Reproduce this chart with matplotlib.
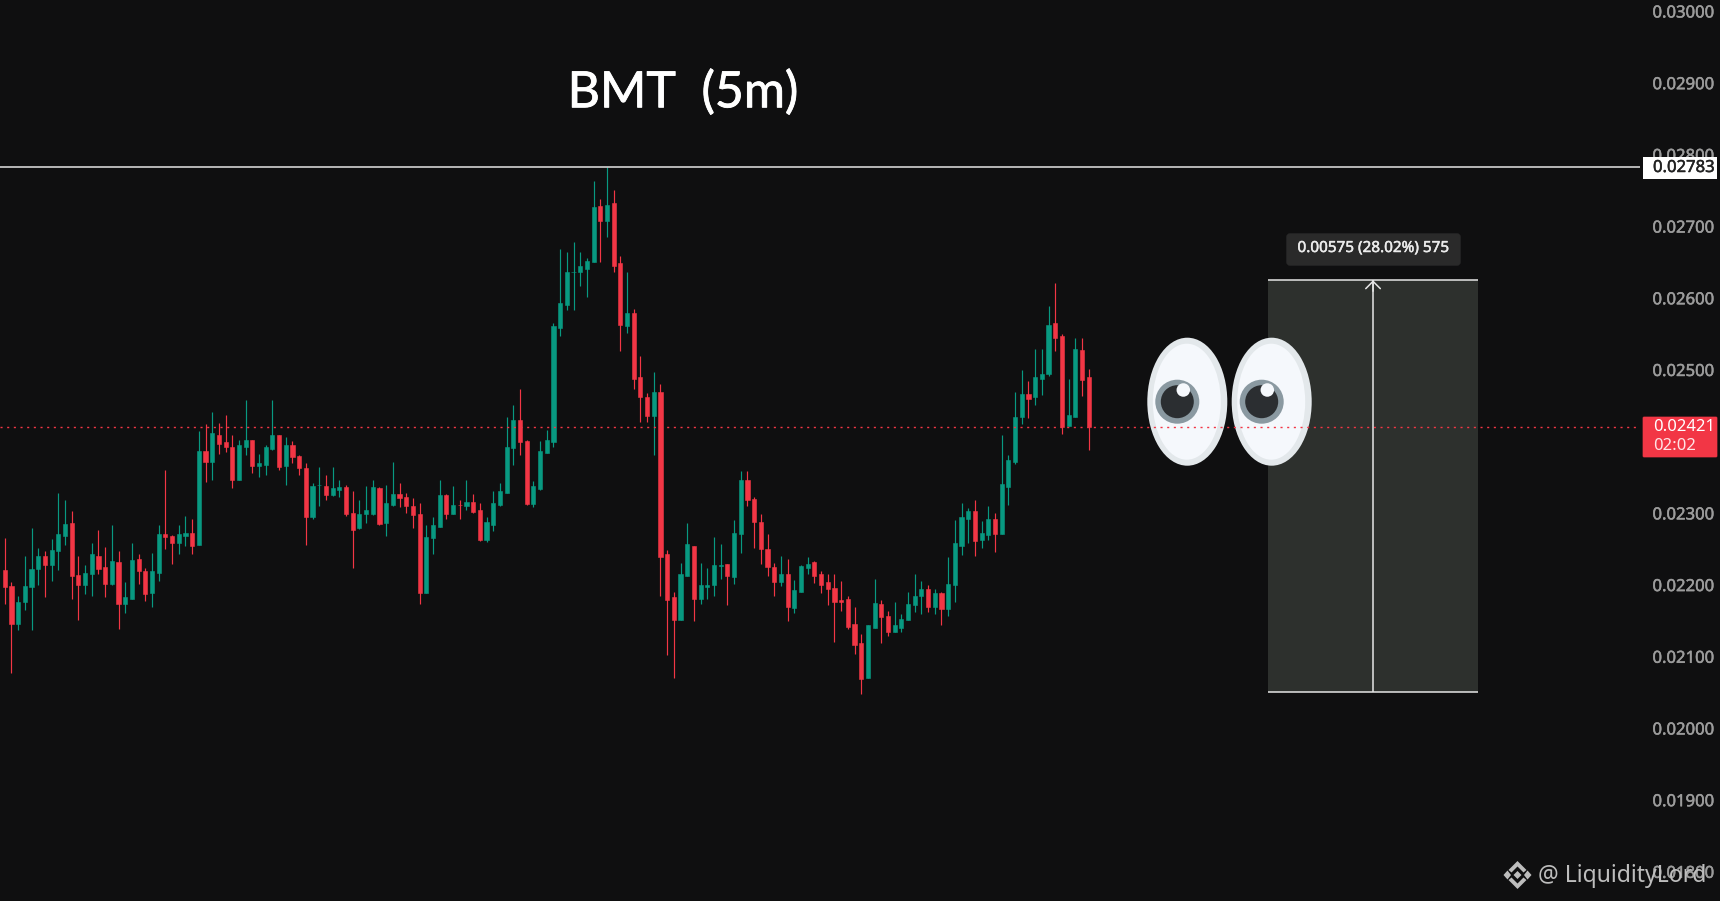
import numpy as np
from matplotlib import pyplot as plt
from matplotlib import patheffects
from matplotlib.patches import Ellipse, FancyBboxPatch, Polygon, Rectangle
from matplotlib.transforms import Affine2D

plt.rcParams['font.family'] = ['Noto Sans', 'DejaVu Sans']

W, H = 1720, 901

# prices in units of 0.00001
opens = [2221, 2199, 2146, 2177, 2197, 2222, 2240, 2228, 2247, 2269,
         2286, 2214, 2200, 2215, 2241, 2225, 2201, 2232, 2174, 2180,
         2236, 2219, 2189, 2217, 2271, 2269, 2258, 2269, 2273, 2256,
         2387, 2372, 2410, 2399, 2393, 2347, 2393, 2402, 2366, 2368,
         2390, 2409, 2366, 2395, 2380, 2363, 2295, 2339, 2338, 2325,
         2333, 2337, 2301, 2279, 2299, 2299, 2336, 2286, 2311, 2327,
         2323, 2310, 2299, 2189, 2265, 2281, 2326, 2299, 2312, 2310,
         2316, 2305, 2263, 2284, 2311, 2329, 2391, 2430, 2401, 2313,
         2334, 2384, 2400, 2559, 2591, 2636, 2637, 2641, 2651, 2729,
         2708, 2733, 2649, 2562, 2579, 2490, 2462, 2436, 2469, 2243,
         2184, 2151, 2212, 2254, 2181, 2198, 2200, 2226, 2229, 2211,
         2271, 2347, 2320, 2288, 2251, 2225, 2204, 2215, 2168, 2190,
         2224, 2232, 2215, 2204, 2196, 2179, 2180, 2146, 2119, 2071,
         2140, 2174, 2157, 2135, 2140, 2152, 2172, 2185, 2195, 2169,
         2189, 2166, 2200, 2255, 2292, 2303, 2263, 2270, 2292, 2271,
         2337, 2371, 2434, 2467, 2463, 2488, 2494, 2565, 2548, 2422,
         2435, 2528, 2490]
closes = [2197, 2146, 2177, 2199, 2222, 2240, 2228, 2249, 2271, 2285,
          2212, 2200, 2217, 2243, 2222, 2201, 2234, 2174, 2183, 2235,
          2219, 2188, 2219, 2271, 2267, 2258, 2271, 2273, 2254, 2387,
          2371, 2412, 2397, 2392, 2347, 2395, 2402, 2366, 2370, 2393,
          2409, 2364, 2395, 2379, 2363, 2295, 2338, 2340, 2325, 2336,
          2337, 2299, 2277, 2299, 2305, 2337, 2285, 2314, 2327, 2322,
          2310, 2298, 2189, 2267, 2284, 2325, 2299, 2312, 2311, 2316,
          2302, 2263, 2288, 2314, 2331, 2393, 2430, 2400, 2313, 2338,
          2387, 2402, 2561, 2593, 2637, 2637, 2645, 2652, 2727, 2708,
          2730, 2645, 2563, 2579, 2488, 2462, 2436, 2469, 2239, 2179,
          2151, 2215, 2257, 2181, 2200, 2200, 2228, 2228, 2212, 2273,
          2346, 2319, 2288, 2251, 2225, 2204, 2215, 2170, 2193, 2226,
          2230, 2213, 2200, 2194, 2177, 2177, 2141, 2117, 2069, 2144,
          2175, 2155, 2134, 2144, 2153, 2174, 2185, 2195, 2169, 2189,
          2166, 2202, 2258, 2295, 2304, 2262, 2273, 2292, 2271, 2341,
          2374, 2434, 2467, 2460, 2490, 2495, 2563, 2544, 2421, 2437,
          2529, 2486, 2421]
highs = [2265, 2204, 2185, 2240, 2280, 2252, 2248, 2264, 2329, 2318,
         2303, 2240, 2228, 2258, 2277, 2253, 2284, 2248, 2204, 2258,
         2243, 2224, 2245, 2284, 2360, 2270, 2284, 2297, 2292, 2415,
         2424, 2441, 2426, 2437, 2409, 2403, 2458, 2403, 2383, 2396,
         2458, 2409, 2406, 2401, 2381, 2370, 2342, 2364, 2353, 2364,
         2346, 2340, 2331, 2318, 2338, 2346, 2337, 2340, 2372, 2342,
         2329, 2322, 2314, 2284, 2295, 2346, 2327, 2338, 2319, 2347,
         2327, 2314, 2295, 2331, 2342, 2434, 2451, 2473, 2402, 2345,
         2401, 2416, 2566, 2669, 2665, 2678, 2665, 2656, 2764, 2738,
         2783, 2751, 2659, 2636, 2585, 2520, 2468, 2497, 2480, 2249,
         2191, 2231, 2287, 2254, 2231, 2224, 2267, 2257, 2230, 2291,
         2359, 2359, 2323, 2299, 2271, 2231, 2241, 2236, 2207, 2228,
         2239, 2233, 2220, 2215, 2216, 2205, 2185, 2170, 2132, 2145,
         2208, 2179, 2164, 2176, 2159, 2190, 2215, 2206, 2200, 2195,
         2190, 2239, 2291, 2314, 2308, 2319, 2289, 2310, 2301, 2409,
         2381, 2469, 2500, 2484, 2529, 2529, 2589, 2622, 2550, 2487,
         2545, 2544, 2501]
lows = [2174, 2077, 2137, 2165, 2137, 2200, 2184, 2206, 2221, 2256,
        2180, 2152, 2187, 2185, 2215, 2184, 2200, 2139, 2161, 2180,
        2202, 2178, 2170, 2206, 2250, 2229, 2243, 2254, 2244, 2256,
        2344, 2346, 2383, 2385, 2336, 2346, 2381, 2357, 2351, 2353,
        2389, 2360, 2340, 2370, 2353, 2256, 2292, 2310, 2318, 2324,
        2323, 2296, 2224, 2278, 2287, 2298, 2284, 2269, 2310, 2309,
        2301, 2279, 2173, 2189, 2243, 2281, 2292, 2299, 2292, 2305,
        2301, 2262, 2260, 2275, 2310, 2329, 2367, 2381, 2312, 2309,
        2333, 2384, 2393, 2548, 2584, 2584, 2617, 2602, 2651, 2651,
        2686, 2636, 2526, 2552, 2473, 2428, 2428, 2382, 2185, 2102,
        2070, 2151, 2212, 2150, 2174, 2180, 2185, 2209, 2172, 2202,
        2245, 2310, 2252, 2230, 2213, 2185, 2199, 2150, 2161, 2190,
        2215, 2203, 2189, 2172, 2121, 2164, 2139, 2104, 2048, 2071,
        2140, 2119, 2129, 2135, 2135, 2152, 2162, 2160, 2162, 2159,
        2144, 2157, 2177, 2242, 2259, 2241, 2252, 2263, 2246, 2271,
        2312, 2369, 2425, 2433, 2451, 2465, 2492, 2526, 2411, 2422,
        2434, 2464, 2388]

price_ticks = [0.030, 0.029, 0.028, 0.027, 0.026, 0.025, 0.023, 0.022, 0.021, 0.020, 0.019, 0.018]
price_labels = ['0.03000', '0.02900', '0.02800', '0.02700', '0.02600', '0.02500',
                '0.02300', '0.02200', '0.02100', '0.02000', '0.01900', '0.01800']

high_level = 0.02783
last_price = 0.02421
range_top = 0.02626
range_bottom = 0.02051

BG = '#0f0f10'
GREEN = '#089981'
RED = '#f23645'


def thicken(text, width=0.35):
    text.set_path_effects([patheffects.withStroke(linewidth=width, foreground=text.get_color())])


def main():
    o = np.array(opens) / 1e5
    c = np.array(closes) / 1e5
    hi = np.array(highs) / 1e5
    lo = np.array(lows) / 1e5
    x = np.arange(len(o))
    colors = [GREEN if c[i] >= o[i] else RED for i in x]

    fig = plt.figure(figsize=(W / 100, H / 100), dpi=100, facecolor=BG)
    ax = fig.add_axes([0, 0, 1640 / W, 1], facecolor=BG)
    ax.set_xlim(-0.717, 244.4)
    ax.set_ylim(0.017594, 0.03016)
    for s in ax.spines.values():
        s.set_visible(False)
    ax.set_xticks([])
    ax.yaxis.tick_right()
    ax.set_yticks(price_ticks)
    ax.set_yticklabels(price_labels, color='#9c9c9c', fontsize=12)
    ax.tick_params(axis='y', length=0, pad=9)
    for t in ax.get_yticklabels():
        thicken(t)

    # pixel coordinates, y going down
    px = Affine2D().scale(1, -1).translate(0, H)

    # measuring box
    bx0, bx1 = 188.8, 220.2
    ax.add_patch(Rectangle((bx0, range_bottom), bx1 - bx0, range_top - range_bottom,
                           facecolor='#2d302d', edgecolor='none', zorder=1))
    ax.hlines([range_top, range_bottom], bx0, bx1, color='#e6e6e6', lw=1.1, zorder=2)
    mid = (bx0 + bx1) / 2
    ax.vlines(mid, range_bottom, range_top, color='#e6e6e6', lw=1.1, zorder=6)
    ax.annotate('', xy=(mid, range_top + 0.00003), xytext=(mid, range_top - 0.0002),
                arrowprops=dict(arrowstyle='->,head_length=0.35,head_width=0.35', color='#e6e6e6',
                                lw=1.1, mutation_scale=15), zorder=6)

    # candles
    ax.vlines(x, lo, hi, color=colors, lw=0.85, zorder=3)
    ax.bar(x, np.abs(c - o), bottom=np.minimum(o, c), width=0.62, color=colors, linewidth=0.4,
           edgecolor=colors, zorder=3)

    ax.axhline(high_level, color='#e4e4e4', lw=1.1, zorder=5)

    # eyes
    for cx, ix, hx in [(1187.3, 1177.3, 1183.3), (1271.7, 1261.7, 1267.3)]:
        ax.add_patch(Ellipse((cx, 401.7), 80, 128, facecolor='#e3e8eb', edgecolor='none', transform=px, zorder=4))
        ax.add_patch(Ellipse((cx - 0.5, 401.7), 68, 116, facecolor='#f5f8fc', edgecolor='none', transform=px, zorder=4))
        ax.add_patch(Ellipse((ix, 401.7), 44, 44, facecolor='#8a99a1', edgecolor='none', transform=px, zorder=4))
        ax.add_patch(Ellipse((ix, 401.7), 33, 33, facecolor='#2b2e31', edgecolor='none', transform=px, zorder=4))
        ax.add_patch(Ellipse((hx, 390), 13.5, 13.5, facecolor='#f5f8fc', edgecolor='none', transform=px, zorder=4))

    ax.axhline(last_price, color=RED, lw=1.0, ls=(0, (1.5, 3.3)), zorder=5)

    # title
    title = fig.text(683 / W, 1 - 93 / H, 'BMT  (5m)', color='white', fontsize=36, ha='center', va='center',
                     family=['Lato', 'DejaVu Sans'])
    thicken(title, 0.6)

    # measuring label
    fig.add_artist(FancyBboxPatch((1287, 234), 173, 31, boxstyle='round,pad=0,rounding_size=3',
                                  facecolor='#2a2a2a', edgecolor='#2a2a2a', lw=1, transform=px))
    thicken(fig.text(1373.5 / W, 1 - 248.5 / H, '0.00575 (28.02%) 575', color='#ececec', fontsize=11,
                     ha='center', va='center'))

    # price flags on the scale
    fig.add_artist(Rectangle((1643, 157), 74, 22, facecolor='white', edgecolor='none', transform=px))
    thicken(fig.text(1653 / W, 1 - 168 / H, '0.02783', color='#222222', fontsize=12, ha='left', va='center'))
    fig.add_artist(FancyBboxPatch((1643, 417), 74, 40, boxstyle='round,pad=0,rounding_size=1',
                                  facecolor=RED, edgecolor=RED, lw=0.5, transform=px))
    fig.text(1653 / W, 1 - 427.5 / H, '0.02421', color='white', fontsize=12, fontweight='bold',
             ha='left', va='center')
    fig.text(1653 / W, 1 - 446 / H, '02:02', color='#ffe3e5', fontsize=12, ha='left', va='center')

    # watermark
    lx, ly = 1517.5, 875
    wm = '#bdbdbd'
    shapes = [
        [(0, -4), (4, 0), (0, 4), (-4, 0)],
        [(-10, -4.5), (-6.5, 0), (-10, 4.5), (-14, 0)],
        [(10, -4.5), (14, 0), (10, 4.5), (6.5, 0)],
        [(0, -14), (9, -5), (6, -2.5), (0, -8.5), (-6, -2.5), (-9, -5)],
        [(0, 14), (9, 5), (6, 2.5), (0, 8.5), (-6, 2.5), (-9, 5)],
    ]
    for shape in shapes:
        fig.add_artist(Polygon([(lx + a, ly + b) for a, b in shape], closed=True, facecolor=wm,
                               edgecolor='none', transform=px))
    fig.text(1538 / W, 1 - 876 / H, '@ LiquidityLord', color=wm, fontsize=16.5, ha='left', va='center')

    fig.savefig('out.png', dpi=100, facecolor=BG)


if __name__ == '__main__':
    main()
